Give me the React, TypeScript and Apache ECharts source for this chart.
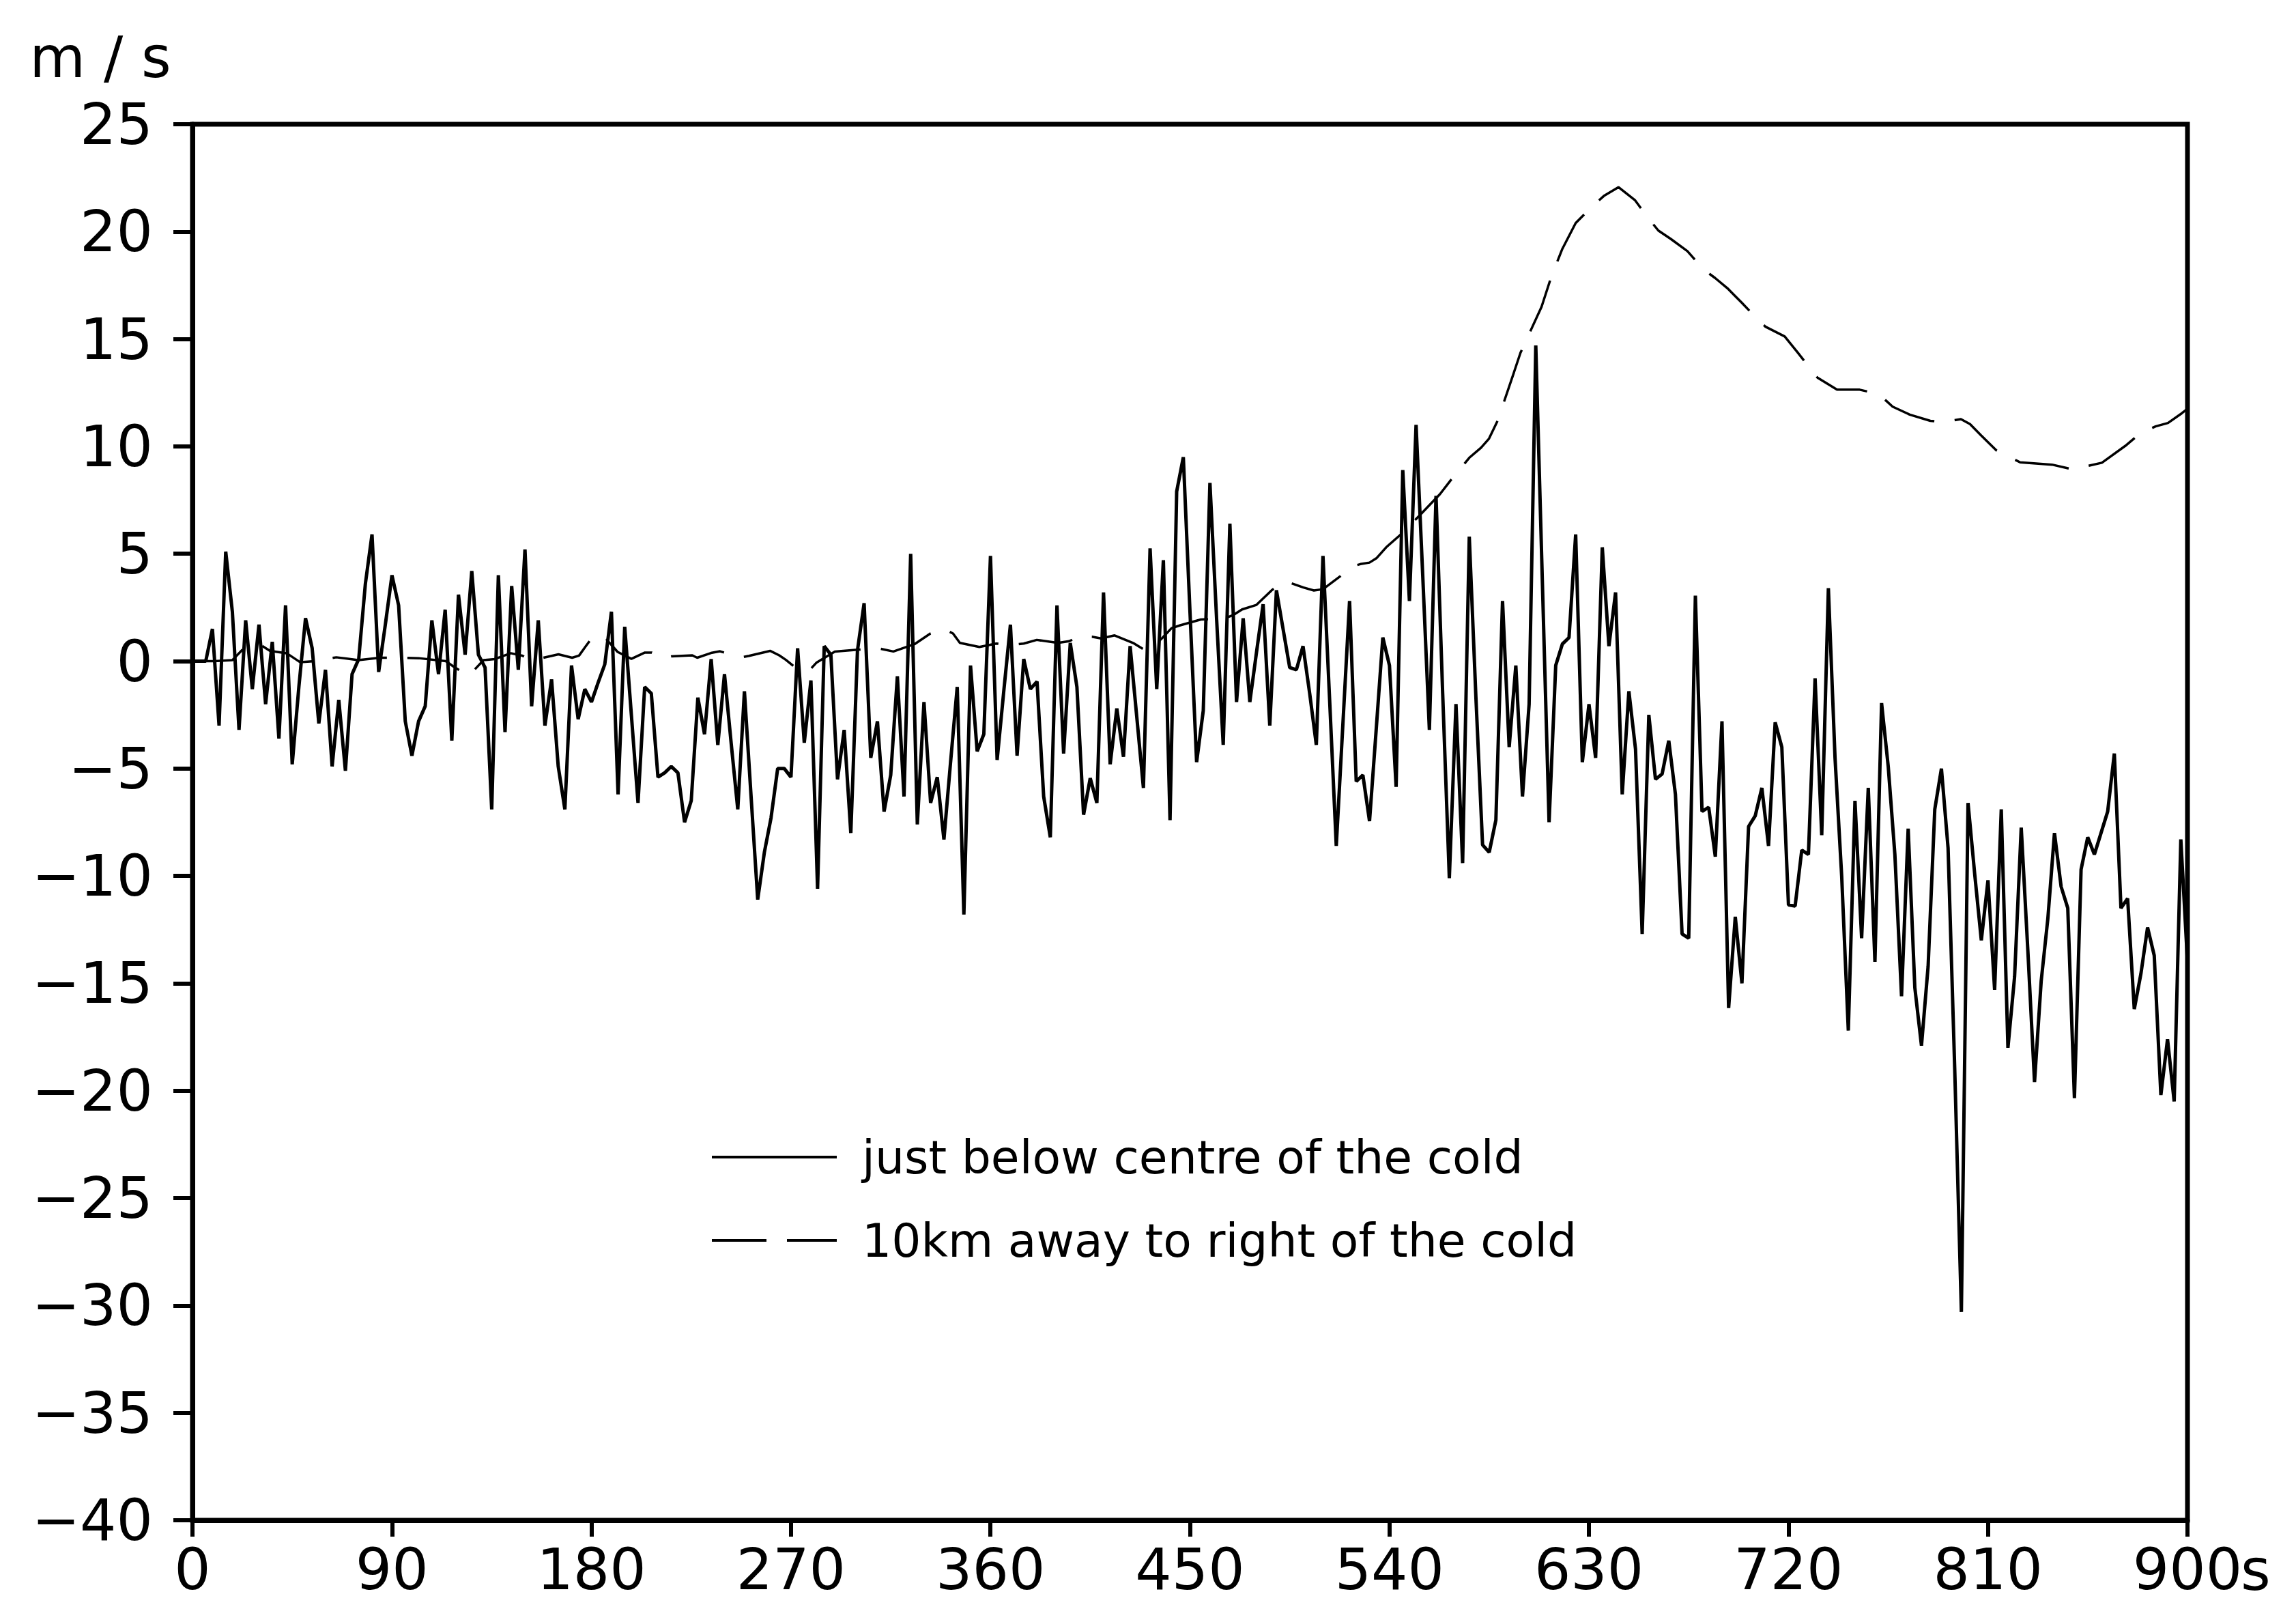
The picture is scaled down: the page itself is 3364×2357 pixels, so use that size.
import React, { useEffect, useRef } from "react";
import * as echarts from "echarts";

const FONT = "DejaVu Sans";

// time axis (s)
const X_MIN = 0;
const X_MAX = 900;
const X_INTERVAL = 90;
// speed axis (m/s)
const Y_MIN = -40;
const Y_MAX = 25;
const Y_INTERVAL = 5;

const SERIES_NAMES = ["just below centre of the cold", "10km away to right of the cold"];

// solid series: one value every 3 s from 0 to 900 s
const SOLID_STEP = 3;
const solidSpeed = [
  0, 0, 0, 1.5, -3.0, 5.1, 2.3, -3.2, 1.9, -1.3,
  1.7, -2.0, 0.9, -3.6, 2.6, -4.8, -1.2, 2.0, 0.6, -2.9,
  -0.4, -4.9, -1.8, -5.1, -0.6, 0.1, 3.6, 5.9, -0.5, 1.7,
  4.0, 2.6, -2.8, -4.4, -2.8, -2.1, 1.9, -0.6, 2.4, -3.7,
  3.1, 0.3, 4.2, 0.3, -0.3, -6.9, 4.0, -3.3, 3.5, -0.4,
  5.2, -2.1, 1.9, -3.0, -0.85, -4.9, -6.9, -0.2, -2.7, -1.3,
  -1.9, -1.0, -0.15, 2.3, -6.2, 1.6, -2.5, -6.6, -1.2, -1.5,
  -5.4, -5.2, -4.9, -5.2, -7.5, -6.5, -1.7, -3.4, 0.1, -3.9,
  -0.6, -3.8, -6.9, -1.4, -6.3, -11.1, -8.9, -7.3, -5.0, -5.0,
  -5.4, 0.6, -3.8, -0.9, -10.6, 0.7, 0.3, -5.5, -3.2, -8.0,
  0.5, 2.7, -4.5, -2.8, -7.0, -5.3, -0.7, -6.3, 5.0, -7.6,
  -1.9, -6.6, -5.4, -8.3, -4.7, -1.2, -11.8, -0.2, -4.2, -3.4,
  4.9, -4.6, -1.4, 1.7, -4.4, 0.1, -1.3, -0.95, -6.3, -8.2,
  2.6, -4.3, 0.85, -1.2, -7.15, -5.45, -6.6, 3.2, -4.8, -2.2,
  -4.45, 0.7, -2.6, -5.9, 5.25, -1.3, 4.7, -7.4, 7.9, 9.5,
  2.3, -4.7, -2.3, 8.3, 2.0, -3.9, 6.4, -1.9, 2.0, -1.9,
  0.4, 2.65, -3.0, 3.3, 1.5, -0.3, -0.4, 0.7, -1.5, -3.9,
  4.9, -1.8, -8.6, -2.9, 2.8, -5.6, -5.3, -7.45, -3.2, 1.1,
  -0.2, -5.85, 8.9, 2.8, 11.0, 4.0, -3.2, 7.7, -1.5, -10.1,
  -2.0, -9.4, 5.8, -1.7, -8.55, -8.9, -7.4, 2.8, -4.0, -0.2,
  -6.3, -2.0, 14.7, 3.6, -7.5, -0.2, 0.8, 1.1, 5.9, -4.7,
  -2.0, -4.5, 5.3, 0.7, 3.2, -6.2, -1.4, -4.1, -12.7, -2.5,
  -5.5, -5.25, -3.7, -6.2, -12.7, -12.9, 3.05, -7.0, -6.8, -9.1,
  -2.8, -16.15, -11.9, -15.0, -7.7, -7.2, -5.9, -8.6, -2.85, -4.0,
  -11.35, -11.4, -8.8, -9.0, -0.8, -8.1, 3.4, -4.5, -10.0, -17.2,
  -6.5, -12.9, -5.9, -14.0, -1.95, -4.9, -9.0, -15.6, -7.8, -15.2,
  -17.9, -14.2, -6.9, -5.0, -8.7, -19.0, -30.3, -6.6, -9.9, -13.0,
  -10.2, -15.3, -6.9, -18.0, -14.7, -7.75, -13.5, -19.6, -14.9, -12.0,
  -8.0, -10.5, -11.5, -20.35, -9.7, -8.2, -9.0, -8.0, -7.0, -4.3,
  -11.5, -11.05, -16.2, -14.55, -12.4, -13.7, -20.2, -17.6, -20.5, -8.3,
  -14.0,
];

// dashed series: times (s) and values (m/s)
const dashTimes = [
  0, 10, 18, 23, 31, 35, 42.5, 48.6, 54.8, 64.9,
  74.8, 84.6, 92, 102, 114.3, 117.9, 124.6, 131.3, 136.4, 143.6,
  148.7, 152.8, 155.9, 165.1, 171.3, 174.4, 177.4, 180, 183.1, 185.9,
  191.8, 198, 204.1, 207.2, 212.9, 216, 225.5, 227.7, 233.9, 238,
  244.1, 248.2, 251.1, 260.6, 264.7, 267.7, 272.9, 276, 279, 281.6,
  289.8, 300, 309.3, 316.2, 325.7, 332.9, 339, 343.1, 346.2, 355,
  362.6, 368.8, 375, 380.9, 390.4, 395.5, 400.6, 405.8, 409.9, 416,
  424.7, 429.4, 433, 437.6, 441.7, 445.6, 454.9, 465.3, 469.4, 473.5,
  480, 487.1, 492, 495.1, 501.2, 505.9, 510, 517.9, 522.3, 526.9,
  531, 534.1, 538.5, 545.9, 553.6, 562.8, 568.2, 576.2, 581.3, 584.9,
  588.8, 596.2, 599.1, 608.6, 613, 618, 624, 630.5, 636.7, 643.3,
  650.7, 657.2, 661.3, 666.9, 674.4, 681.8, 686.9, 692.4, 699.1, 704.4,
  709.5, 718.3, 724.4, 733.1, 741.9, 752.1, 760.8, 767, 774.7, 784,
  789.6, 797.8, 801.9, 806.8, 813.7, 824.5, 838.9, 848.1, 861.4, 871.9,
  879.1, 885.6, 891.2, 897.4, 900,
];
const dashSpeed = [
  0, 0, 0.05, 0.58, 0.74, 0.48, 0.37, -0.05, 0, 0.18,
  0.05, 0.16, 0.16, 0.14, 0, -0.26, -0.69, 0.05, 0.1, 0.37,
  0.26, 0.05, 0.1, 0.32, 0.16, 0.26, 0.69, 1.06, 1.24, 1.12,
  0.43, 0.11, 0.4, 0.4, 0.14, 0.22, 0.27, 0.16, 0.38, 0.46,
  0.27, 0.19, 0.25, 0.48, 0.27, 0.06, -0.37, -0.47, -0.35, -0.06,
  0.45, 0.53, 0.6, 0.45, 0.79, 1.29, 1.5, 1.29, 0.85, 0.66,
  0.82, 0.75, 0.82, 0.99, 0.85, 0.93, 1.17, 1.14, 1.06, 1.2,
  0.83, 0.53, 0.64, 1.09, 1.54, 1.67, 1.94, 1.98, 2.14, 2.41,
  2.62, 3.32, 3.69, 3.65, 3.43, 3.29, 3.35, 3.96, 4.39, 4.52,
  4.59, 4.79, 5.3, 5.97, 6.79, 7.78, 8.5, 9.49, 9.94, 10.36,
  11.2, 13.46, 14.36, 16.5, 17.9, 19.2, 20.4, 21.08, 21.66, 22.07,
  21.47, 20.57, 20.05, 19.66, 19.09, 18.23, 17.84, 17.37, 16.67, 16.1,
  15.58, 15.12, 14.34, 13.2, 12.64, 12.64, 12.43, 11.85, 11.48, 11.19,
  11.13, 11.27, 11.04, 10.52, 9.82, 9.26, 9.15, 8.93, 9.24, 10.02,
  10.64, 10.93, 11.09, 11.54, 11.75,
];

const tickFormatter = (v: number) => (v < 0 ? "\u2212" + Math.abs(v) : String(v));

export default function App() {
  const ref = useRef<HTMLDivElement>(null);

  useEffect(() => {
    if (!ref.current) return;
    const chart = echarts.init(ref.current, undefined, { renderer: "svg" });

    const solidData = solidSpeed.map((v, i) => [i * SOLID_STEP, v]);
    const dashData = dashTimes.map((t, i) => [t, dashSpeed[i]]);

    const axisLine = { show: true, onZero: false, lineStyle: { color: "#000", width: 7 } };
    const labelStyle = { color: "#000", fontSize: 84, fontFamily: FONT };

    chart.setOption({
      animation: false,
      backgroundColor: "#ffffff",
      grid: {
        left: 282,
        right: 159,
        top: 182,
        bottom: 130,
        show: true,
        borderColor: "#000",
        borderWidth: 7,
        backgroundColor: "transparent",
      },
      xAxis: {
        type: "value",
        min: X_MIN,
        max: X_MAX,
        interval: X_INTERVAL,
        axisLine,
        axisTick: { show: true, length: 24, lineStyle: { color: "#000", width: 6 } },
        axisLabel: { ...labelStyle, margin: 30 },
        splitLine: { show: false },
      },
      yAxis: {
        type: "value",
        min: Y_MIN,
        max: Y_MAX,
        interval: Y_INTERVAL,
        axisLine,
        axisTick: { show: true, length: 28, lineStyle: { color: "#000", width: 6 } },
        axisLabel: { ...labelStyle, margin: 58, formatter: tickFormatter },
        splitLine: { show: false },
      },
      legend: {
        orient: "vertical",
        left: 1036,
        top: 1656,
        itemWidth: 183,
        itemHeight: 20,
        itemGap: 54,
        itemStyle: { opacity: 0 },
        lineStyle: { width: 4 },
        textStyle: { fontFamily: FONT, fontSize: 68, color: "#000", padding: [0, 0, 0, 32] },
        data: SERIES_NAMES,
      },
      graphic: [
        {
          type: "text",
          x: 147,
          y: 84,
          style: {
            text: "m / s",
            fontSize: 84,
            fontFamily: FONT,
            fill: "#000",
            align: "center",
            verticalAlign: "middle",
          },
        },
        {
          type: "text",
          x: 3283,
          y: 2300,
          style: {
            text: "s",
            fontSize: 84,
            fontFamily: FONT,
            fill: "#000",
            align: "left",
            verticalAlign: "middle",
          },
        },
      ],
      series: [
        {
          name: SERIES_NAMES[0],
          type: "line",
          data: solidData,
          symbol: "none",
          lineStyle: { color: "#000", width: 5 },
          itemStyle: { color: "#000" },
          z: 3,
        },
        {
          name: SERIES_NAMES[1],
          type: "line",
          data: dashData,
          symbol: "none",
          lineStyle: { color: "#000", width: 3.5, type: [80, 30] },
          itemStyle: { color: "#000" },
          z: 2,
        },
      ],
    });

    return () => chart.dispose();
  }, []);

  return (
    <div
      ref={ref}
      style={{ position: "fixed", left: 0, top: 0, width: 3364, height: 2357, background: "#fff" }}
    />
  );
}
